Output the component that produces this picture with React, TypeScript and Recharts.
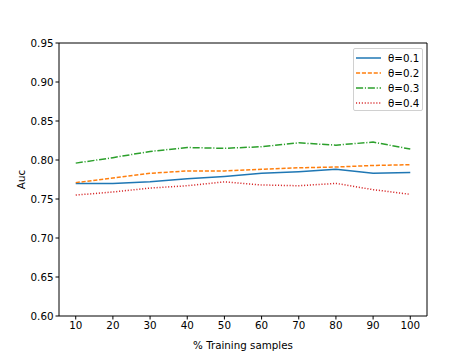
import { LineChart, Line, XAxis, YAxis } from 'recharts';

const samples = [10, 20, 30, 40, 50, 60, 70, 80, 90, 100];
const theta01 = [0.770, 0.770, 0.772, 0.776, 0.779, 0.783, 0.785, 0.788, 0.783, 0.784];
const theta02 = [0.771, 0.777, 0.783, 0.786, 0.786, 0.788, 0.790, 0.791, 0.793, 0.794];
const theta03 = [0.796, 0.803, 0.811, 0.816, 0.815, 0.817, 0.822, 0.819, 0.823, 0.814];
const theta04 = [0.755, 0.759, 0.764, 0.767, 0.772, 0.768, 0.767, 0.770, 0.762, 0.756];

const yTicks = [0.6, 0.65, 0.7, 0.75, 0.8, 0.85, 0.9, 0.95];

const FONT = 'DejaVu Sans, sans-serif';

const SERIES = [
    { key: 't1', name: 'θ=0.1', color: '#1f77b4', dash: undefined },
    { key: 't2', name: 'θ=0.2', color: '#ff7f0e', dash: '4.1 1.8' },
    { key: 't3', name: 'θ=0.3', color: '#2ca02c', dash: '7.1 1.8 1.1 1.8' },
    { key: 't4', name: 'θ=0.4', color: '#d62728', dash: '1.1 1.8' },
];

const data = samples.map((s, i) => ({
    x: s,
    t1: theta01[i],
    t2: theta02[i],
    t3: theta03[i],
    t4: theta04[i],
}));

function LegendBox() {
    return (
        <div
            style={{
                position: 'absolute',
                left: 353,
                top: 48,
                width: 70,
                height: 63,
                border: '1px solid #d0d0d0',
                borderRadius: 2,
                background: 'rgba(255,255,255,0.8)',
                fontFamily: FONT,
                fontSize: 10.3,
                color: '#000',
                boxSizing: 'border-box',
                paddingTop: 1,
            }}
        >
            {SERIES.map((s) => (
                <div key={s.key} style={{ display: 'flex', alignItems: 'center', height: 15 }}>
                    <svg width={32} height={10} style={{ flex: 'none' }}>
                        <line x1={2} y1={5} x2={27} y2={5} stroke={s.color} strokeWidth={1.5} strokeDasharray={s.dash} />
                    </svg>
                    <span style={{ marginLeft: 2 }}>{s.name}</span>
                </div>
            ))}
        </div>
    );
}

export default function App() {
    return (
        <div style={{ position: 'absolute', left: 0, top: 0, width: 474, height: 355, background: '#fff' }}>
            <LineChart width={474} height={355} data={data} margin={{ top: 42, right: 46, left: 0, bottom: 0 }}>
                <XAxis
                    dataKey="x"
                    type="number"
                    domain={[5.5, 104.5]}
                    ticks={samples}
                    height={39}
                    tickSize={3.5}
                    tickMargin={2}
                    stroke="#000"
                    tick={{ fill: '#000', fontSize: 10.3, fontFamily: FONT }}
                    label={{ value: '% Training samples', position: 'insideBottom', offset: 6, fill: '#000', fontSize: 10.3, fontFamily: FONT }}
                />
                <XAxis xAxisId="top" orientation="top" dataKey="x" type="number" domain={[5.5, 104.5]} height={1} tick={false} tickLine={false} stroke="#000" />
                <YAxis
                    type="number"
                    domain={[0.6, 0.95]}
                    ticks={yTicks}
                    width={59}
                    tickSize={3.5}
                    tickMargin={2}
                    stroke="#000"
                    tickFormatter={(v: number) => v.toFixed(2)}
                    tick={{ fill: '#000', fontSize: 10.3, fontFamily: FONT }}
                    label={{
                        content: (props: any) => {
                            const vb = props.viewBox;
                            const cx = 21;
                            const cy = vb.y + vb.height / 2;
                            return (
                                <text x={cx} y={cy} transform={`rotate(-90 ${cx} ${cy})`} textAnchor="middle" dominantBaseline="central" fill="#000" fontSize={10.3} fontFamily={FONT}>
                                    Auc
                                </text>
                            );
                        },
                    }}
                />
                <YAxis yAxisId="right" orientation="right" type="number" domain={[0.6, 0.95]} width={1} tick={false} tickLine={false} stroke="#000" />
                {SERIES.map((s) => (
                    <Line
                        key={s.key}
                        dataKey={s.key}
                        name={s.name}
                        stroke={s.color}
                        strokeWidth={1.5}
                        strokeDasharray={s.dash}
                        dot={false}
                        isAnimationActive={false}
                    />
                ))}
            </LineChart>
            <LegendBox />
        </div>
    );
}
